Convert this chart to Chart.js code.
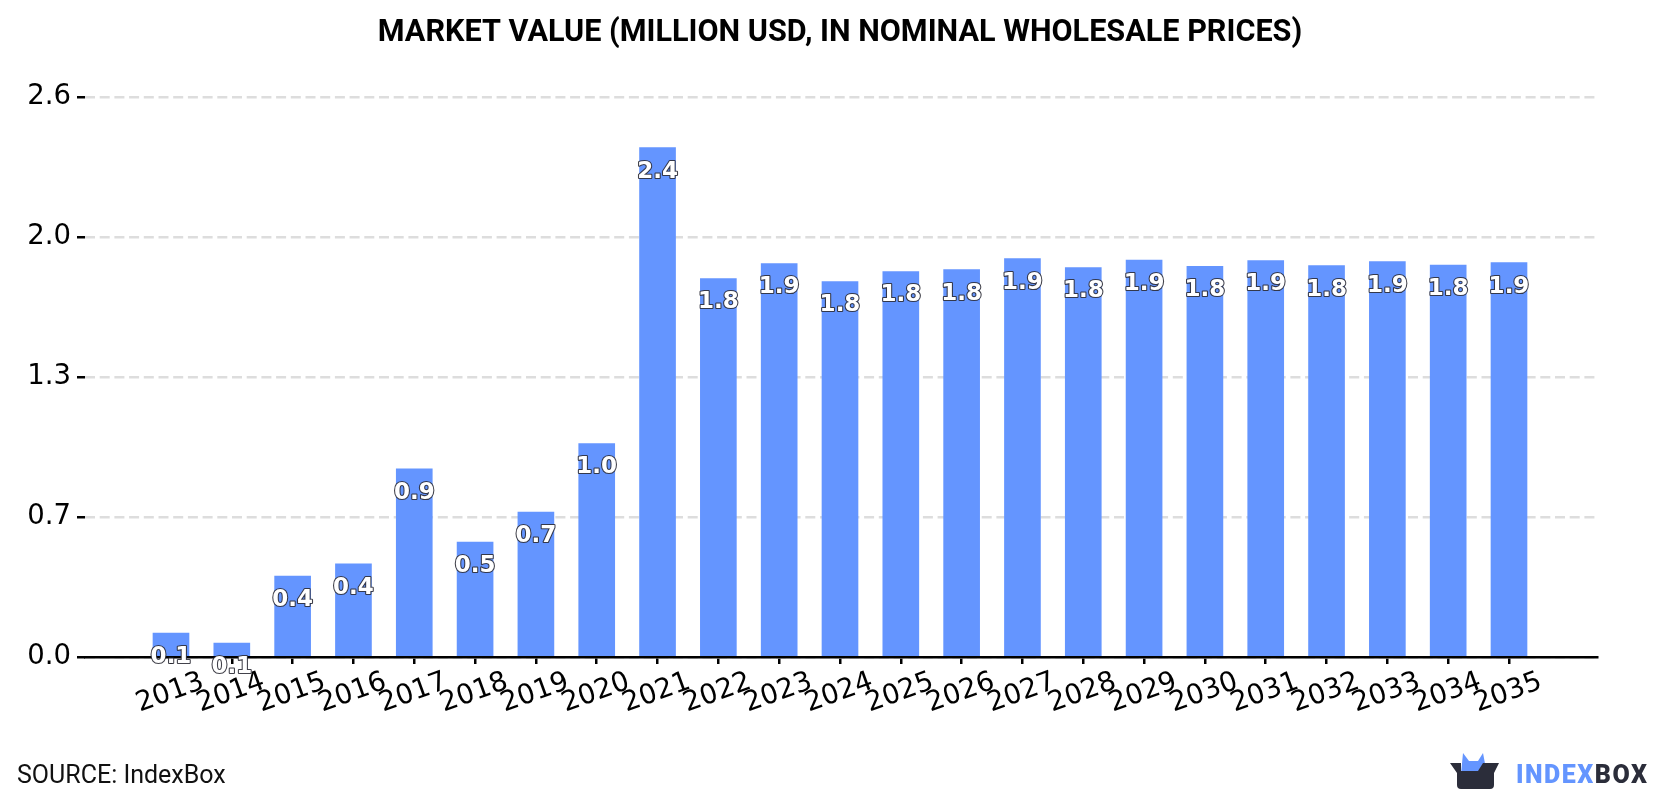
<!DOCTYPE html>
<html>
<head>
<meta charset="utf-8">
<title>Market value</title>
<script src="https://cdn.jsdelivr.net/npm/chart.js@4"></script>
<style>
  html, body { margin: 0; padding: 0; background: #fff; overflow: hidden; }
  #wrap { position: relative; width: 1680px; height: 800px; }
  canvas { position: absolute; left: 0; top: 0; }
  #source { position: absolute; left: 17px; top: 761px; font: 400 25px Roboto, sans-serif; color: #111; line-height: 28px; }
  #logo { position: absolute; left: 1450px; top: 752px; }
  #brand { position: absolute; left: 1516px; top: 760px; font: 900 25px/30px Roboto, sans-serif; letter-spacing: 1.5px; color: #2b2d3a; white-space: nowrap; }
  #brand span { color: #6495ff; }
</style>
</head>
<body>
<div id="wrap">
  <canvas id="chart" width="1680" height="800"></canvas>
  <div id="source">SOURCE: IndexBox</div>
  <svg id="logo" width="52" height="40" viewBox="0 0 52 40">
    <path d="M11 22 L13 1 L19 9 L28 9 L33 1 L37 22 Z" fill="#6495ff"/>
    <path d="M0 11 L11 11 L11 19 L28 19 L33 11 L49 11 L44 21 L44 33 Q44 37 40 37 L11 37 Q7 37 7 33 L7 21 Z" fill="#2b2d3a"/>
  </svg>
  <div id="brand"><span>INDEX</span>BOX</div>
</div>
<script>
const years = [2013, 2014, 2015, 2016, 2017, 2018, 2019, 2020, 2021, 2022, 2023, 2024,
               2025, 2026, 2027, 2028, 2029, 2030, 2031, 2032, 2033, 2034, 2035];
const marketValue = [0.113, 0.066, 0.382, 0.439, 0.887, 0.542, 0.684, 1.007, 2.402, 1.785, 1.856, 1.771,
                     1.818, 1.827, 1.879, 1.837, 1.872, 1.842, 1.87, 1.846, 1.865, 1.848, 1.86];
const yTicks = [0, 0.66, 1.32, 1.98, 2.64];
const chartTitle = 'MARKET VALUE (MILLION USD, IN NOMINAL WHOLESALE PRICES)';

const tickFont = { family: '"DejaVu Sans"', size: 27.5 };

// Writes each bar's rounded value just below its top edge.
const valueLabels = {
  id: 'valueLabels',
  afterDraw(chart) {
    const ctx = chart.ctx;
    const bars = chart.getDatasetMeta(0).data;
    ctx.save();
    ctx.font = 'bold 23px "DejaVu Sans"';
    ctx.textAlign = 'center';
    ctx.textBaseline = 'middle';
    ctx.lineJoin = 'round';
    bars.forEach((bar, i) => {
      const text = marketValue[i].toFixed(1);
      ctx.lineWidth = 2.2;
      ctx.strokeStyle = 'rgba(45,45,55,0.9)';
      ctx.strokeText(text, bar.x, bar.y + 24);
      ctx.fillStyle = '#fff';
      ctx.fillText(text, bar.x, bar.y + 24);
    });
    ctx.restore();
  }
};

new Chart(document.getElementById('chart'), {
  type: 'bar',
  data: {
    labels: years,
    datasets: [{
      data: marketValue,
      backgroundColor: '#6495ff',
      barThickness: 36,
      borderWidth: 0
    }]
  },
  plugins: [valueLabels],
  options: {
    responsive: false,
    animation: false,
    plugins: {
      legend: { display: false },
      tooltip: { enabled: false },
      title: {
        display: true,
        text: chartTitle,
        color: '#000',
        font: { family: 'Roboto', size: 30.6, weight: 'bold' },
        padding: { top: 15, bottom: 45.5 }
      }
    },
    scales: {
      x: {
        type: 'linear',
        offset: false,
        min: 2011.586,
        max: 2036.447,
        z: 1,
        afterFit(scale) { scale.height = 143; },
        afterBuildTicks(scale) { scale.ticks = years.map(v => ({ value: v })); },
        grid: { offset: false, drawOnChartArea: false, color: '#000', lineWidth: 2.5, tickLength: 7 },
        border: { display: true, color: '#000', width: 2.5 },
        ticks: {
          font: tickFont,
          color: '#000',
          minRotation: 20,
          maxRotation: 20,
          autoSkip: false,
          padding: 1.5,
          labelOffset: 32,
          callback: v => String(v)
        }
      },
      y: {
        min: 0,
        max: 2.64,
        afterFit(scale) { scale.width = 85; },
        afterBuildTicks(scale) { scale.ticks = yTicks.map(v => ({ value: v })); },
        grid: { color: '#dddddd', lineWidth: 2.5, tickColor: '#000', tickLength: 8, tickBorderDash: [] },
        border: { display: false, dash: [10, 4.7] },
        ticks: {
          font: tickFont,
          color: '#000',
          padding: 6,
          callback: v => v.toFixed(1)
        }
      },
      // Empty right-hand gutter, so the title stays centred on the full canvas.
      gutter: {
        type: 'linear',
        position: 'right',
        afterFit(scale) { scale.width = 83; },
        grid: { display: false },
        border: { display: false },
        ticks: { display: false }
      }
    }
  }
});
</script>
</body>
</html>
